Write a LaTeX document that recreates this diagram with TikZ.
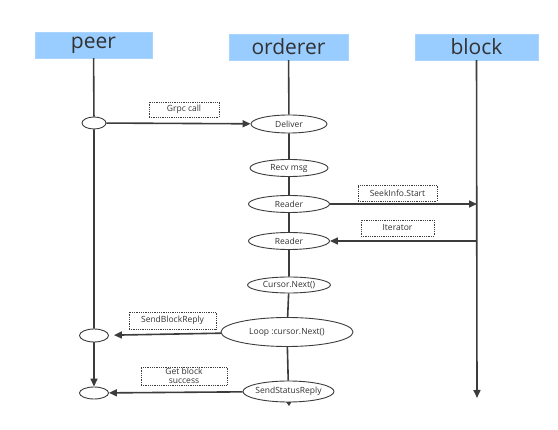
\documentclass[tikz,border=0pt]{standalone}
\usepackage{fontspec}
\setmainfont{Open Sans}
\usetikzlibrary{positioning,shapes.geometric,arrows.meta}
\tikzstyle{diagram} = [x = 1pt, y = -1pt]
\definecolor{headerColor}{RGB}{153,204,255}
\definecolor{lineColor}{RGB}{60,60,60}
\definecolor{textColor}{RGB}{50,50,50}
\tikzstyle{headerStyle} = [fill=headerColor, draw=headerColor!85!white, minimum height = 26pt, inner sep = 0pt, text=textColor, font=\fontsize{21}{23}\selectfont]
\tikzstyle{stepStyle} = [ellipse, draw=lineColor, fill=white, line width = .9pt, inner xsep = -4pt, inner ysep = 0pt, minimum width = 80pt, minimum height = 17pt, text=textColor, font=\fontsize{8.5}{9.5}\selectfont]
\tikzstyle{peerDotStyle} = [ellipse, draw=lineColor, fill=white, line width = .9pt, inner sep = 0pt, minimum width = 29pt, minimum height = 13pt]
\tikzstyle{labelBox} = [draw=lineColor, densely dotted, line width = .8pt, inner sep = 0pt, minimum height = 16pt, text=textColor, font=\fontsize{8.5}{9.5}\selectfont]
\tikzstyle{lifeLine} = [color=lineColor, line width = 1.6pt]
\tikzstyle{messageLine} = [lifeLine, -{Triangle[length = 8pt, width = 7pt]}]

\begin{document}
\begin{tikzpicture}[diagram]
  \useasboundingbox (0,0) rectangle (558,430);

  % headers
  \node [headerStyle, minimum width = 117pt] (peer) at (93.5,45) {peer};
  \node [headerStyle, minimum width = 119pt] (orderer) at (288.5,47) {orderer};
  \node [headerStyle, minimum width = 123pt] (block) at (476.5,47) {block};

  % orderer steps
  \node [stepStyle, minimum width = 76pt, minimum height = 18pt] (deliver) at (289,124) {Deliver};
  \node [stepStyle, minimum width = 78pt] (recv) at (289,168) {Recv msg};
  \node [stepStyle, minimum width = 81pt] (readerA) at (289,204) {Reader};
  \node [stepStyle, minimum width = 81pt] (readerB) at (289,241) {Reader};
  \node [stepStyle, minimum width = 83pt, minimum height = 16pt] (cursor) at (289,285) {Cursor.Next()};
  \node [stepStyle, minimum width = 132pt, minimum height = 29pt] (loop) at (287,332) {Loop :cursor.Next()};
  \node [stepStyle, minimum width = 91pt, minimum height = 21pt] (status) at (288.5,391.5) {SendStatusReply};

  % peer points
  \node [peerDotStyle, minimum width = 24pt, minimum height = 12pt] (peerCall) at (94,123) {};
  \node [peerDotStyle] (peerReply) at (94,335.5) {};
  \node [peerDotStyle, minimum height = 12pt] (peerDone) at (94,393) {};

  % lifeline ends
  \coordinate (ordererEnd) at (289,406);
  \coordinate (blockEnd) at (477,398);
  \coordinate (blockSeek) at (477,204);
  \coordinate (blockIter) at (477,241);

  % lifelines
  \draw [lifeLine] (peer) -- (peerCall) -- (peerReply);
  \draw [messageLine] (peerReply) -- (peerDone);
  \draw [lifeLine] (orderer) -- (deliver) -- (recv) -- (readerA) -- (readerB) -- (cursor) -- (loop) -- (status);
  \draw [lifeLine, -{Triangle[length = 4pt, width = 5pt]}] (status) -- (ordererEnd);
  \draw [messageLine] (block) -- (blockEnd);

  % messages
  \draw [messageLine] (peerCall) -- (deliver);
  \draw [messageLine] (readerA) -- (blockSeek);
  \draw [messageLine] (blockIter) -- (readerB);
  \draw [messageLine, shorten > = 5pt] (loop) -- (peerReply);
  \draw [messageLine] (status) -- (peerDone);

  % message labels
  \node [labelBox, minimum width = 70pt, minimum height = 15pt] (grpcLabel) at (184,109.5) {Grpc call};
  \node [labelBox, minimum width = 79pt] (seekLabel) at (397.5,193) {SeekInfo.Start};
  \node [labelBox, minimum width = 73pt] (iterLabel) at (397.5,228) {Iterator};
  \node [labelBox, minimum width = 87pt, minimum height = 17pt] (blockReplyLabel) at (172.5,320.5) {SendBlockReply};
  \node [labelBox, minimum width = 86pt, minimum height = 18pt, inner ysep = -2pt, align=center, font=\fontsize{8.5}{9.5}\selectfont] (statusLabel) at (184,376) {Get block\\success};
\end{tikzpicture}
\end{document}
